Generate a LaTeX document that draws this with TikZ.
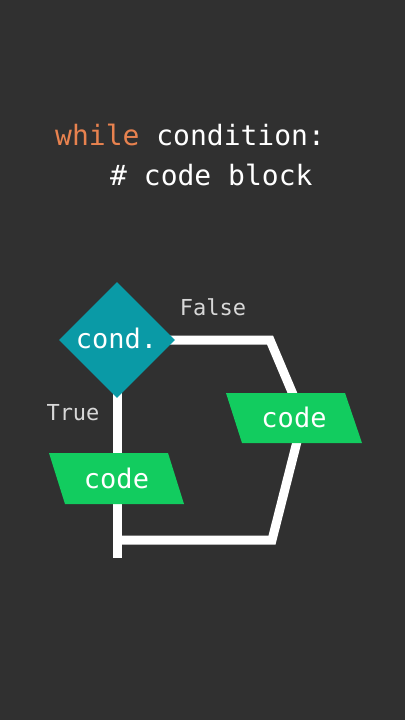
\documentclass[tikz,border=0pt]{standalone}
\usepackage{fontspec}
\setmonofont{DejaVu Sans Mono}
\usetikzlibrary{shapes.geometric}
\definecolor{bgc}{HTML}{303030}
\definecolor{kw}{HTML}{E8824F}
\definecolor{teal}{HTML}{0A9AA6}
\definecolor{grn}{HTML}{12CC5F}
\definecolor{lbl}{HTML}{D8D8D8}
\pgfdeclarelayer{back}
\pgfdeclarelayer{lines}
\pgfsetlayers{back,lines,main}
\tikzset{
  codetxt/.style={inner sep=0pt, anchor=base west, text=white, font=\ttfamily\fontsize{28}{34}\selectfont},
  boxtxt/.style={inner sep=0pt, anchor=base, text=white, font=\ttfamily\fontsize{27}{32}\selectfont},
  lbltxt/.style={inner sep=0pt, anchor=base, text=lbl, font=\ttfamily\fontsize{22}{26}\selectfont},
  flow/.style={draw=white, line width=9pt, line join=miter},
  para/.style={fill=grn}
}
\begin{document}
\begin{tikzpicture}[x=1pt,y=-1pt]
\begin{pgfonlayer}{back}
\fill[bgc] (0,0) rectangle (405,720);
\end{pgfonlayer}
\useasboundingbox (0,0) rectangle (405,720);
% code
\node[codetxt] (l1) at (55,145) {\textcolor{kw}{while}\ condition:};
\node[codetxt] (l2) at (110,185) {\#\ code\ block};
% diamond
\node[diamond, fill=teal, minimum width=116pt, minimum height=116pt, inner sep=0pt] (cond) at (117,340) {};
\node[boxtxt] (condt) at (116.5,348) {cond.};
% parallelograms
\fill[para] (226,393) -- (345,393) -- (362,443) -- (242,443) -- cycle;
\node[boxtxt] (code1) at (294,427) {code};
\fill[para] (49,453) -- (168,453) -- (184,504) -- (65,504) -- cycle;
\node[boxtxt] (code2) at (116.5,488) {code};
% labels
\node[lbltxt] (false) at (213,315) {False};
\node[lbltxt] (true) at (73,420) {True};
% connectors
\coordinate (c1) at (270,340);
\coordinate (c2) at (303,418);
\coordinate (c3) at (272,540);
\coordinate (c4) at (117,540);
\coordinate (c5) at (117,558);
\begin{pgfonlayer}{lines}
\draw[flow] (cond.center) -- (c1) -- (c2) -- (c3) -- (c4);
\draw[flow] (cond.center) -- (c5);
\end{pgfonlayer}
\end{tikzpicture}
\end{document}
